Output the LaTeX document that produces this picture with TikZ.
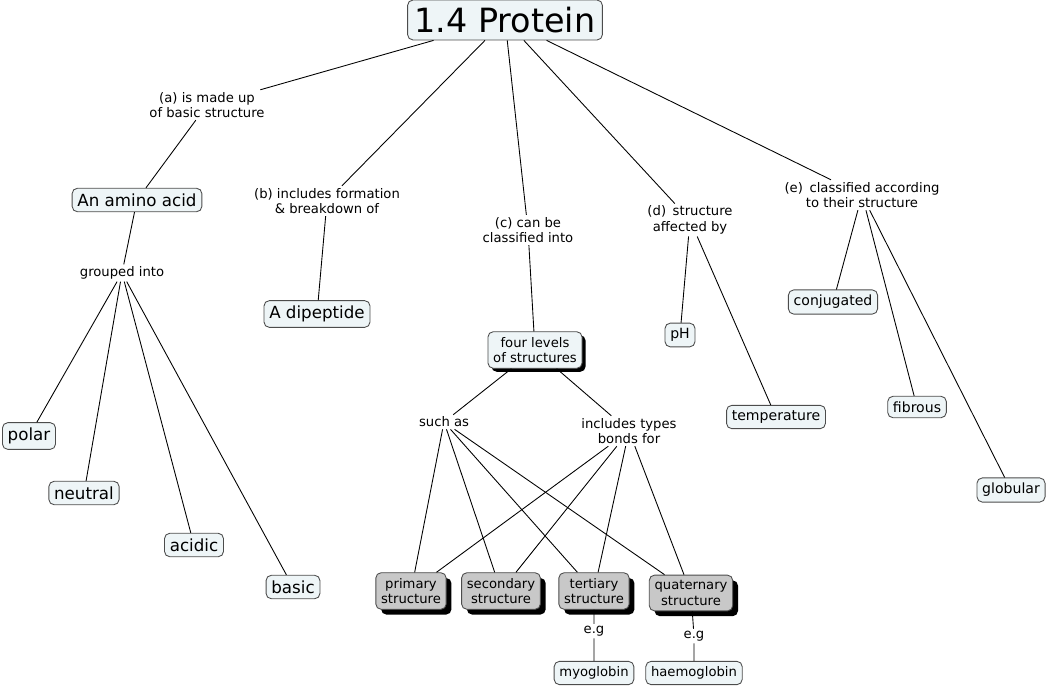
\documentclass[tikz,border=0pt]{standalone}
\usepackage{fontspec}
\setmainfont{DejaVu Sans}
\usetikzlibrary{shadows}
\definecolor{boxfill}{HTML}{EEF5F7}
\definecolor{greyfill}{HTML}{C8C8C8}
\tikzset{
  concept/.style={draw=black!70, fill=boxfill, rounded corners=3pt, inner sep=3pt, font=\fontsize{9.5}{11}\selectfont},
  small/.style={concept, font=\fontsize{7.5}{9}\selectfont, align=center},
  level/.style={concept, fill=greyfill, align=center, font=\fontsize{7.5}{9}\selectfont,
    drop shadow={fill=black, opacity=1, shadow xshift=3pt, shadow yshift=-3pt}},
  link/.style={align=center, font=\fontsize{7.5}{9}\selectfont, inner sep=1pt},
  every path/.style={line width=0.5pt}
}
\begin{document}
\begin{tikzpicture}[x=0.02cm, y=-0.02cm]
  \useasboundingbox (0,0) rectangle (1050,690);
  \node[concept, font=\fontsize{19}{22}\selectfont, inner sep=4pt] (P) at (505,20) {1.4 Protein};
  % (a)
  \node[link] (la) at (207,105) {(a) is made up\\of basic structure};
  \node[concept] (amino) at (137,200) {An amino acid};
  \node[link] (grp) at (122,273) {grouped into};
  \node[concept] (polar) at (29,436) {polar};
  \node[concept] (neutral) at (84,493) {neutral};
  \node[concept] (acidic) at (194,545) {acidic};
  \node[concept] (basic) at (293,587) {basic};
  % (b)
  \node[link] (lb) at (327,201) {(b) includes formation\\\& breakdown of};
  \node[concept] (dip) at (317,314) {A dipeptide};
  % (c)
  \node[link] (lc) at (528,230) {(c) can be\\classified into};
  \node[small, drop shadow={fill=black, opacity=1, shadow xshift=2pt, shadow yshift=-2pt}] (four) at (535,350) {four levels\\of structures};
  \node[link] (such) at (444,422) {such as};
  \node[link] (incl) at (629,431) {includes types\\bonds for};
  \node[level] (prim) at (411,591) {primary\\structure};
  \node[level] (sec) at (501,591) {secondary\\structure};
  \node[level] (ter) at (594,591) {tertiary\\structure};
  \node[level] (qua) at (691,593) {quaternary\\structure};
  \node[link] (eg1) at (594,631) {e.g};
  \node[small] (myo) at (594,673) {myoglobin};
  \node[link] (eg2) at (694,636) {e.g};
  \node[small] (hae) at (694,673) {haemoglobin};
  % (d)
  \node[link] (ld) at (690,220) {(d)\enspace structure\\affected by};
  \node[concept, font=\fontsize{8}{9}\selectfont] (ph) at (680,335) {pH};
  \node[concept, font=\fontsize{8}{9}\selectfont] (temp) at (776,417) {temperature};
  % (e)
  \node[link] (le) at (862,195) {(e)\enspace classified according\\to their structure};
  \node[concept, font=\fontsize{8}{9}\selectfont] (conj) at (833,302) {conjugated};
  \node[concept, font=\fontsize{8}{9}\selectfont] (fib) at (917,407) {fibrous};
  \node[concept, font=\fontsize{8}{9}\selectfont] (glob) at (1011,490) {globular};
  % connectors
  \draw (P) -- (la) (la) -- (amino) (amino) -- (grp);
  \foreach \t in {polar, neutral, acidic, basic} \draw (grp) -- (\t);
  \draw (P) -- (lb) (lb) -- (dip);
  \draw (P) -- (lc) (lc) -- (four) (four) -- (such) (four) -- (incl);
  \foreach \t in {prim, sec, ter, qua} {\draw (such) -- (\t); \draw (incl) -- (\t);}
  \draw (ter) -- (eg1) (eg1) -- (myo) (qua) -- (eg2) (eg2) -- (hae);
  \draw (P) -- (ld) (ld) -- (ph) (ld) -- (temp);
  \draw (P) -- (le) (le) -- (conj) (le) -- (fib) (le) -- (glob);
\end{tikzpicture}
\end{document}
